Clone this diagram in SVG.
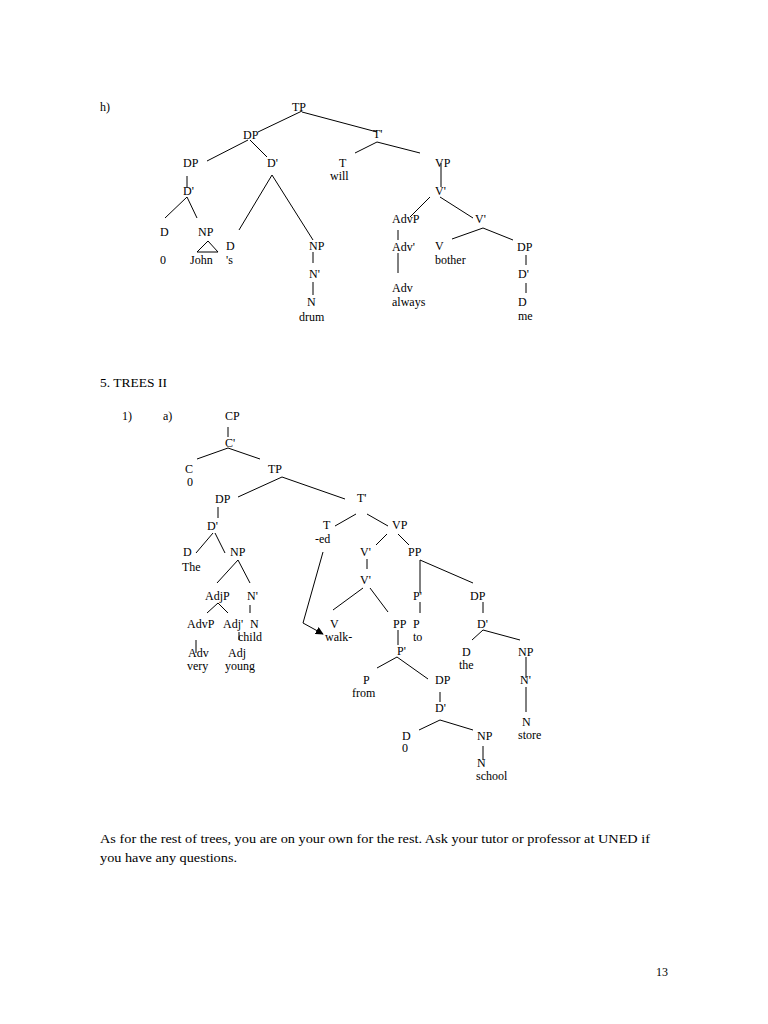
<svg xmlns="http://www.w3.org/2000/svg" width="768" height="1024" viewBox="0 0 768 1024">
<style>
text{font-family:"Liberation Serif","Times New Roman",serif;font-size:12px;fill:#000}
.b{font-size:13.5px}
#connectors line,#connectors polyline,#connectors polygon{stroke:#000;stroke-width:1;fill:none}
</style>
<defs>
<marker id="ah" viewBox="0 0 10 10" refX="9" refY="5" markerWidth="8" markerHeight="8" orient="auto" markerUnits="userSpaceOnUse"><path d="M0,0 L10,5 L0,10 z" fill="#000"/></marker>
</defs>
<rect width="768" height="1024" fill="#fff"/>
<g id="connectors">
<line x1="302" y1="111" x2="258" y2="132"/>
<line x1="302" y1="112" x2="377" y2="132"/>
<line x1="248" y1="140" x2="207" y2="161"/>
<line x1="250" y1="140" x2="267" y2="157"/>
<line x1="187" y1="176" x2="187" y2="188"/>
<line x1="187" y1="197" x2="165" y2="218"/>
<line x1="187" y1="197" x2="197" y2="218"/>
<line x1="272" y1="175" x2="239" y2="230"/>
<line x1="272" y1="175" x2="313" y2="240"/>
<polygon points="208,241 197,252 218,252"/>
<line x1="313" y1="252" x2="313" y2="263"/>
<line x1="313" y1="282" x2="313" y2="295"/>
<line x1="377" y1="142" x2="355" y2="153"/>
<line x1="377" y1="142" x2="420" y2="153"/>
<line x1="441" y1="163" x2="441" y2="187"/>
<line x1="430" y1="197" x2="410" y2="217"/>
<line x1="440" y1="197" x2="473" y2="218"/>
<line x1="398" y1="230" x2="398" y2="240"/>
<line x1="398" y1="253" x2="398" y2="273"/>
<line x1="483" y1="228" x2="452" y2="239"/>
<line x1="483" y1="228" x2="513" y2="240"/>
<line x1="526" y1="255" x2="526" y2="265"/>
<line x1="526" y1="283" x2="526" y2="293"/>
<line x1="228" y1="427" x2="228" y2="437"/>
<line x1="228" y1="448" x2="197" y2="459"/>
<line x1="228" y1="448" x2="260" y2="459"/>
<line x1="282" y1="477" x2="238" y2="497"/>
<line x1="282" y1="477" x2="345" y2="499"/>
<line x1="218" y1="507" x2="218" y2="518"/>
<line x1="213" y1="533" x2="196" y2="553"/>
<line x1="215" y1="533" x2="225" y2="553"/>
<line x1="238" y1="560" x2="217" y2="583"/>
<line x1="238" y1="560" x2="250" y2="583"/>
<line x1="218" y1="603" x2="207" y2="613"/>
<line x1="218" y1="603" x2="228" y2="613"/>
<line x1="250" y1="605" x2="250" y2="613"/>
<line x1="196" y1="640" x2="196" y2="653"/>
<line x1="239" y1="632" x2="239" y2="640"/>
<line x1="356" y1="514" x2="335" y2="526"/>
<line x1="367" y1="514" x2="388" y2="526"/>
<line x1="387" y1="534" x2="376" y2="545"/>
<line x1="398" y1="534" x2="409" y2="545"/>
<line x1="367" y1="559" x2="367" y2="569"/>
<line x1="420" y1="560" x2="420" y2="593"/>
<line x1="420" y1="560" x2="473" y2="583"/>
<line x1="363" y1="588" x2="333" y2="610"/>
<line x1="370" y1="588" x2="388" y2="612"/>
<line x1="420" y1="602" x2="420" y2="613"/>
<line x1="483" y1="602" x2="483" y2="613"/>
<line x1="483" y1="630" x2="472" y2="640"/>
<line x1="483" y1="630" x2="520" y2="640"/>
<line x1="526" y1="657" x2="526" y2="678"/>
<line x1="526" y1="687" x2="526" y2="712"/>
<line x1="398" y1="630" x2="398" y2="645"/>
<line x1="397" y1="657" x2="377" y2="668"/>
<line x1="397" y1="657" x2="428" y2="679"/>
<line x1="440" y1="692" x2="440" y2="702"/>
<line x1="440" y1="720" x2="419" y2="730"/>
<line x1="440" y1="720" x2="473" y2="730"/>
<line x1="483" y1="746" x2="483" y2="760"/>
<polyline points="323,552 303,623 323,634" marker-end="url(#ah)"/>
</g>
<g id="label-h"><text x="100" y="111">h)</text></g>
<g id="h-TP"><text x="292" y="111">TP</text></g>
<g id="h-DP1"><text x="243" y="139">DP</text></g>
<g id="h-Tbar"><text x="373" y="138">T'</text></g>
<g id="h-DP2"><text x="183" y="167">DP</text></g>
<g id="h-Dbar1"><text x="267" y="167">D'</text></g>
<g id="h-T"><text x="339" y="167">T</text><text x="330" y="180">will</text></g>
<g id="h-VP"><text x="435" y="167">VP</text></g>
<g id="h-Dbar2"><text x="183" y="195">D'</text></g>
<g id="h-Vbar1"><text x="435" y="195">V'</text></g>
<g id="h-D0"><text x="160" y="236">D</text><text x="160" y="264">0</text></g>
<g id="h-NPjohn"><text x="198" y="236">NP</text><text x="190" y="264">John</text></g>
<g id="h-Ds"><text x="226" y="250">D</text><text x="226" y="264">'s</text></g>
<g id="h-NPdrum"><text x="309" y="250">NP</text></g>
<g id="h-Nbar"><text x="309" y="278">N'</text></g>
<g id="h-N"><text x="307" y="306">N</text><text x="299" y="321">drum</text></g>
<g id="h-AdvP"><text x="392" y="223">AdvP</text></g>
<g id="h-Vbar2"><text x="475" y="223">V'</text></g>
<g id="h-Advbar"><text x="392" y="251">Adv'</text></g>
<g id="h-V"><text x="435" y="250">V</text><text x="435" y="264">bother</text></g>
<g id="h-DPme"><text x="517" y="251">DP</text></g>
<g id="h-Dbarme"><text x="518" y="278">D'</text></g>
<g id="h-Adv"><text x="392" y="292">Adv</text><text x="392" y="306">always</text></g>
<g id="h-Dme"><text x="518" y="306">D</text><text x="518" y="320">me</text></g>
<g id="heading"><text class="b" x="100" y="387">5. TREES II</text></g>
<g id="label-1a"><text x="122" y="420">1)</text><text x="163" y="420">a)</text></g>
<g id="a-CP"><text x="225" y="420">CP</text></g>
<g id="a-Cbar"><text x="225" y="447">C'</text></g>
<g id="a-C"><text x="185" y="473">C</text><text x="187" y="486">0</text></g>
<g id="a-TP"><text x="268" y="473">TP</text></g>
<g id="a-DP"><text x="215" y="503">DP</text></g>
<g id="a-Tbar"><text x="357" y="502">T'</text></g>
<g id="a-Dbar"><text x="207" y="530">D'</text></g>
<g id="a-T"><text x="323" y="529">T</text><text x="315" y="543">-ed</text></g>
<g id="a-VP"><text x="392" y="529">VP</text></g>
<g id="a-DThe"><text x="183" y="556">D</text><text x="182" y="571">The</text></g>
<g id="a-NP"><text x="230" y="556">NP</text></g>
<g id="a-Vbar1"><text x="360" y="556">V'</text></g>
<g id="a-PP1"><text x="408" y="556">PP</text></g>
<g id="a-Vbar2"><text x="360" y="584">V'</text></g>
<g id="a-AdjP"><text x="205" y="600">AdjP</text></g>
<g id="a-Nbar"><text x="247" y="600">N'</text></g>
<g id="a-Pbar1"><text x="413" y="600">P'</text></g>
<g id="a-DP2"><text x="470" y="600">DP</text></g>
<g id="a-AdvP"><text x="187" y="628">AdvP</text></g>
<g id="a-Adjbar"><text x="223" y="628">Adj'</text></g>
<g id="a-N"><text x="250" y="628">N</text><text x="238" y="641">child</text></g>
<g id="a-V"><text x="330" y="628">V</text><text x="325" y="641">walk-</text></g>
<g id="a-PP2"><text x="393" y="628">PP</text></g>
<g id="a-Pto"><text x="413" y="628">P</text><text x="413" y="641">to</text></g>
<g id="a-Dbar2"><text x="477" y="628">D'</text></g>
<g id="a-Adv"><text x="188" y="657">Adv</text><text x="187" y="670">very</text></g>
<g id="a-Adj"><text x="228" y="657">Adj</text><text x="225" y="670">young</text></g>
<g id="a-Pbar2"><text x="397" y="655">P'</text></g>
<g id="a-Dthe"><text x="462" y="656">D</text><text x="459" y="669">the</text></g>
<g id="a-NP2"><text x="518" y="656">NP</text></g>
<g id="a-Pfrom"><text x="363" y="684">P</text><text x="352" y="697">from</text></g>
<g id="a-DP3"><text x="435" y="684">DP</text></g>
<g id="a-Nbar2"><text x="520" y="684">N'</text></g>
<g id="a-Dbar3"><text x="435" y="712">D'</text></g>
<g id="a-Nstore"><text x="522" y="726">N</text><text x="518" y="739">store</text></g>
<g id="a-D0"><text x="402" y="740">D</text><text x="402" y="752">0</text></g>
<g id="a-NP3"><text x="477" y="740">NP</text></g>
<g id="a-Nschool"><text x="477" y="767">N</text><text x="476" y="780">school</text></g>
<g id="footer">
<text class="b" x="100" y="843" textLength="550" lengthAdjust="spacingAndGlyphs">As for the rest of trees, you are on your own for the rest. Ask your  tutor or professor at UNED if</text>
<text class="b" x="100" y="862" textLength="137" lengthAdjust="spacingAndGlyphs">you have any questions.</text>
</g>
<g id="page-number"><text x="656" y="976">13</text></g>
</svg>
